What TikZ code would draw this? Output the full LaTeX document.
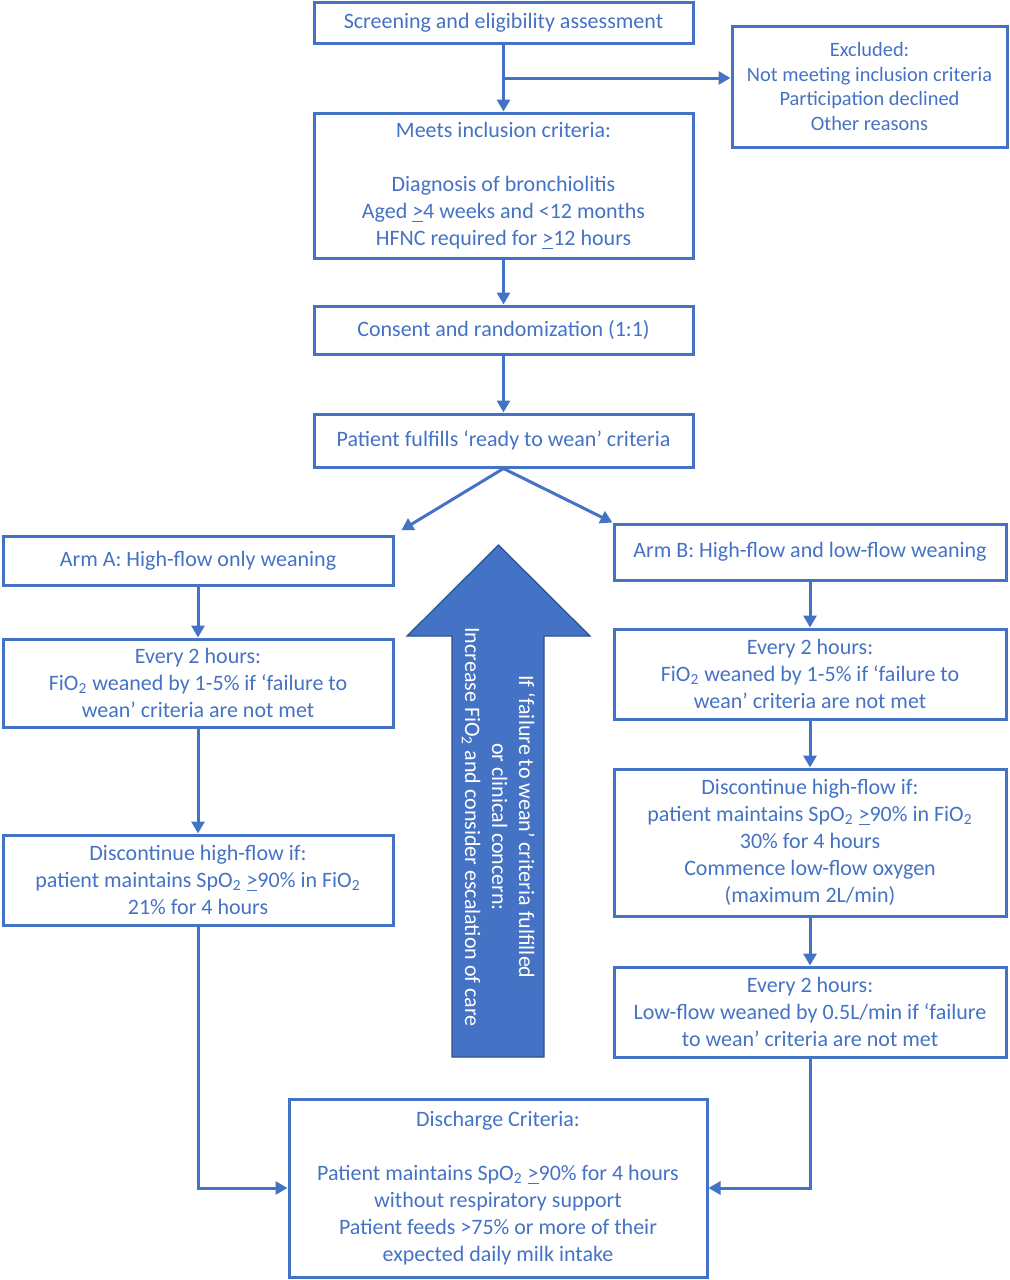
\documentclass[tikz,border=0pt]{standalone}
\usepackage{fontspec}
\setmainfont{Carlito}
\usetikzlibrary{arrows.meta}
\definecolor{blu}{HTML}{4472C4}
\definecolor{bordo}{HTML}{2F528F}
\begin{document}
\begin{tikzpicture}[x=0.5pt, y=-0.5pt,
    box/.style={draw=blu, line width=1.5pt, text=blu, align=center, inner sep=0pt,
        font=\fontsize{11}{13.5}\selectfont},
    freccia/.style={draw=blu, line width=1.5pt, -{Triangle[length=6pt,width=6.5pt]}}]
        \useasboundingbox (0,0) rectangle (1010,1280);

        % Riquadri centrali
        \node[box, minimum width=189.5pt, minimum height=20.5pt] (screen) at (503.5,22.5) {Screening and eligibility assessment};
        \node[box, minimum width=137.5pt, minimum height=60.5pt, font=\fontsize{10.2}{12.4}\selectfont] (excl) at (869.5,86.5) {Excluded:\\Not meeting inclusion criteria\\Participation declined\\Other reasons};
        \node[box, minimum width=189.5pt, minimum height=72.5pt] (meets) at (503.5,185.5) {Meets inclusion criteria:\\[13.5pt]Diagnosis of bronchiolitis\\Aged \underline{>}4 weeks and <12 months\\HFNC required for \underline{>}12 hours};
        \node[box, minimum width=189.5pt, minimum height=24pt] (consent) at (503.5,330) {Consent and randomization (1:1)};
        \node[box, minimum width=189.5pt, minimum height=26.5pt] (ready) at (503.5,440.5) {Patient fulfills ‘ready to wean’ criteria};

        % Braccio A
        \node[box, minimum width=195pt, minimum height=24.5pt] (armA) at (198,560.5) {Arm A: High-flow only weaning};
        \node[box, minimum width=195pt, minimum height=44pt] (everyA) at (198,683) {Every 2 hours:\\FiO\textsubscript{2} weaned by 1-5\% if ‘failure to\\wean’ criteria are not met};
        \node[box, minimum width=195pt, minimum height=45pt] (stopA) at (198,880) {Discontinue high-flow if:\\patient maintains SpO\textsubscript{2} \underline{>}90\% in FiO\textsubscript{2}\\21\% for 4 hours};

        % Braccio B
        \node[box, minimum width=196pt, minimum height=28pt] (armB) at (810,552) {Arm B: High-flow and low-flow weaning};
        \node[box, minimum width=196pt, minimum height=45pt] (everyB) at (810,674) {Every 2 hours:\\FiO\textsubscript{2} weaned by 1-5\% if ‘failure to\\wean’ criteria are not met};
        \node[box, minimum width=196pt, minimum height=73.5pt] (stopB) at (810,842.5) {Discontinue high-flow if:\\patient maintains SpO\textsubscript{2} \underline{>}90\% in FiO\textsubscript{2}\\30\% for 4 hours\\Commence low-flow oxygen\\(maximum 2L/min)};
        \node[box, minimum width=196pt, minimum height=45pt] (lowB) at (810,1012) {Every 2 hours:\\Low-flow weaned by 0.5L/min if ‘failure\\to wean’ criteria are not met};

        % Dimissione
        \node[box, minimum width=209pt, minimum height=89pt] (discharge) at (498,1188) {Discharge Criteria:\\[13.5pt]Patient maintains SpO\textsubscript{2} \underline{>}90\% for 4 hours\\without respiratory support\\Patient feeds >75\% or more of their\\expected daily milk intake};

        % Freccia grande
        \draw[fill=blu, draw=bordo, line width=0.6pt] (452,1057) -- (452,636) -- (407,636) -- (498.5,545) -- (590,636) -- (544,636) -- (544,1057) -- cycle;
        \node[rotate=-90, text=white, align=center, font=\fontsize{11}{13.5}\selectfont] (escal) at (498.5,827) {If ‘failure to wean’ criteria fulfilled\\or clinical concern:\\Increase FiO\textsubscript{2} and consider escalation of care};

        % Collegamenti
        \coordinate (bivio) at (503.5,78);
        \draw[freccia] (screen) -- (meets);
        \draw[freccia] (bivio) -- (bivio -| excl.west);
        \draw[freccia] (meets) -- (consent);
        \draw[freccia] (consent) -- (ready);
        \draw[freccia, shorten >=4pt] (ready.south) -- (armA.north east);
        \draw[freccia] (ready.south) -- (armB.north west);
        \draw[freccia] (armA) -- (everyA);
        \draw[freccia] (everyA) -- (stopA);
        \draw[freccia] (stopA.south) |- (discharge.west);
        \draw[freccia] (armB) -- (everyB);
        \draw[freccia] (everyB) -- (stopB);
        \draw[freccia] (stopB) -- (lowB);
        \draw[freccia] (lowB.south) |- (discharge.east);
\end{tikzpicture}
\end{document}
